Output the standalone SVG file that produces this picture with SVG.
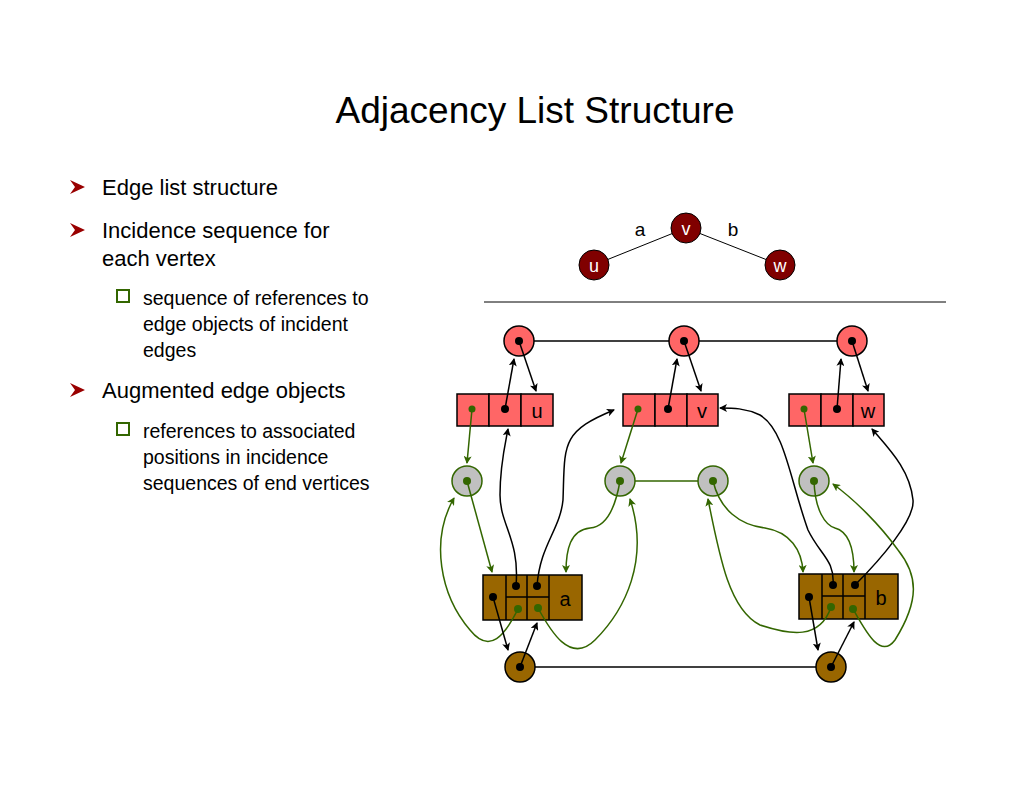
<svg xmlns="http://www.w3.org/2000/svg" width="1024" height="791" viewBox="0 0 1024 791">
<defs>
<marker id="ab" markerWidth="8" markerHeight="8" refX="7" refY="4" orient="auto" markerUnits="userSpaceOnUse"><path d="M0,0 L8,4 L0,8 L2,4z" fill="#000"/></marker>
<marker id="ag" markerWidth="8" markerHeight="8" refX="7" refY="4" orient="auto" markerUnits="userSpaceOnUse"><path d="M0,0 L8,4 L0,8 L2,4z" fill="#336600"/></marker>
</defs>
<style>
text{font-family:"Liberation Sans",Arial,sans-serif;fill:#000}
.b{font-size:22px}.s{font-size:19.5px}
.rc{fill:#ff6666;stroke:#000;stroke-width:1.5}
.gc{fill:#c0c0c0;stroke:#336600;stroke-width:1.5}
.bc{fill:#996600;stroke:#000;stroke-width:1.5}
.vc{fill:#800000;stroke:#000;stroke-width:1}
.bk{fill:none;stroke:#000;stroke-width:1.5;marker-end:url(#ab)}
.gr{fill:none;stroke:#336600;stroke-width:1.5;marker-end:url(#ag)}
.ln{fill:none;stroke:#000;stroke-width:1.5}
.dk{fill:#000}.dg{fill:#336600}
.lb{font-size:19px}
</style>
<rect width="1024" height="791" fill="#fff"/>
<text x="535" y="123" font-size="37" text-anchor="middle">Adjacency List Structure</text>
<g id="bullets">
<g fill="#990000"><polygon points="70,180 85,187 70,194 75,187"/><polygon points="70,223 85,230 70,237 75,230"/><polygon points="70,383 85,390 70,397 75,390"/></g>
<text class="b" x="102" y="195">Edge list structure</text>
<text class="b" x="102" y="238">Incidence sequence for</text>
<text class="b" x="102" y="266">each vertex</text>
<text class="b" x="102" y="398">Augmented edge objects</text>
<rect x="117" y="290" width="12" height="12" fill="#fff" stroke="#336600" stroke-width="2"/>
<rect x="117" y="423" width="12" height="12" fill="#fff" stroke="#336600" stroke-width="2"/>
<text class="s" x="143" y="305">sequence of references to</text>
<text class="s" x="143" y="331">edge objects of incident</text>
<text class="s" x="143" y="357">edges</text>
<text class="s" x="143" y="438">references to associated</text>
<text class="s" x="143" y="464">positions in incidence</text>
<text class="s" x="143" y="490">sequences of end vertices</text>
</g>
<g id="graph">
<line x1="686" y1="228" x2="594" y2="265" stroke="#000"/>
<line x1="686" y1="228" x2="780" y2="265" stroke="#000"/>
<text class="lb" x="640" y="236" text-anchor="middle">a</text>
<text class="lb" x="733" y="236" text-anchor="middle">b</text>
<g id="gv"><circle class="vc" cx="686" cy="228" r="15"/><text x="686" y="235" font-size="18" text-anchor="middle" style="fill:#fff">v</text></g>
<g id="gu"><circle class="vc" cx="594" cy="265" r="15"/><text x="594" y="272" font-size="18" text-anchor="middle" style="fill:#fff">u</text></g>
<g id="gw"><circle class="vc" cx="780" cy="265" r="15"/><text x="780" y="272" font-size="18" text-anchor="middle" style="fill:#fff">w</text></g>
</g>
<line x1="484" y1="302" x2="946" y2="302" stroke="#000"/>
<g id="lines">
<line class="ln" x1="534" y1="341" x2="669" y2="341"/>
<line class="ln" x1="699" y1="341" x2="837" y2="341"/>
<line x1="635" y1="481" x2="698" y2="481" stroke="#336600" stroke-width="1.5"/>
<line class="ln" x1="535" y1="667" x2="816" y2="667"/>
</g>
<g id="vu"><circle class="rc" cx="519" cy="341" r="15"/></g>
<g id="vv"><circle class="rc" cx="684" cy="341" r="15"/></g>
<g id="vw"><circle class="rc" cx="852" cy="341" r="15"/></g>
<g id="bu"><rect class="rc" x="457" y="394" width="32" height="32"/><rect class="rc" x="489" y="394" width="32" height="32"/><rect class="rc" x="521" y="394" width="32" height="32"/><text x="537" y="418" font-size="20" text-anchor="middle">u</text></g>
<g id="bv"><rect class="rc" x="623" y="394" width="32" height="32"/><rect class="rc" x="655" y="394" width="32" height="32"/><rect class="rc" x="687" y="394" width="31" height="32"/><text x="702" y="418" font-size="20" text-anchor="middle">v</text></g>
<g id="bw"><rect class="rc" x="789" y="394" width="32" height="32"/><rect class="rc" x="821" y="394" width="32" height="32"/><rect class="rc" x="853" y="394" width="31" height="32"/><text x="868" y="418" font-size="20" text-anchor="middle">w</text></g>
<g id="p1"><circle class="gc" cx="467" cy="481" r="15"/></g>
<g id="p2"><circle class="gc" cx="620" cy="481" r="15"/></g>
<g id="p3"><circle class="gc" cx="713" cy="481" r="15"/></g>
<g id="p4"><circle class="gc" cx="814" cy="481" r="15"/></g>
<g id="ea"><rect class="bc" x="483" y="575" width="99" height="45"/><line class="ln" x1="506" y1="575" x2="506" y2="620"/><line class="ln" x1="527" y1="575" x2="527" y2="620"/><line class="ln" x1="549" y1="575" x2="549" y2="620"/><line class="ln" x1="506" y1="597" x2="549" y2="597"/><text x="565" y="606" font-size="20" text-anchor="middle">a</text></g>
<g id="eb"><rect class="bc" x="799" y="574" width="99" height="45"/><line class="ln" x1="822" y1="574" x2="822" y2="619"/><line class="ln" x1="843" y1="574" x2="843" y2="619"/><line class="ln" x1="865" y1="574" x2="865" y2="619"/><line class="ln" x1="822" y1="596" x2="865" y2="596"/><text x="881" y="605" font-size="20" text-anchor="middle">b</text></g>
<g id="ca"><circle class="bc" cx="520" cy="667" r="15"/></g>
<g id="cb"><circle class="bc" cx="831" cy="667" r="15"/></g>
<g id="connectors">
<path class="bk" d="M519,341 L536,391"/>
<path class="bk" d="M505,409 L514,359"/>
<path class="gr" d="M472,409 L467,463"/>
<path class="bk" d="M684,341 L701,391"/>
<path class="bk" d="M668,409 L677,359"/>
<path class="gr" d="M638,409 L621,463"/>
<path class="bk" d="M852,341 L868,391"/>
<path class="bk" d="M837,409 L841,359"/>
<path class="gr" d="M804,409 L813,463"/>
<path class="gr" d="M467,481 L492,572"/>
<path class="gr" d="M518,609 C505,635 490,655 470,630 C440,595 430,540 454,498"/>
<path class="bk" d="M516,586 C520,540 500,525 500,495 C500,465 505,445 508,429"/>
<path class="bk" d="M537,586 C540,545 560,530 563,500 C565,445 560,432 614,410"/>
<path class="gr" d="M620,481 C615,510 605,527 590,528 C570,530 566,550 566,572"/>
<path class="gr" d="M538,608 C550,630 570,665 595,640 C625,610 650,560 630,499"/>
<path class="bk" d="M493,597 L508,650"/>
<path class="bk" d="M520,667 L537,623"/>
<path class="gr" d="M713,481 C720,510 740,525 765,528 C790,532 802,550 803,572"/>
<path class="bk" d="M833,585 C835,560 820,555 808,530 C790,480 785,430 760,415 C745,408 733,408 720,408"/>
<path class="gr" d="M814,481 C815,510 825,525 835,528 C850,532 854,550 854,572"/>
<path class="bk" d="M855,585 C880,560 915,520 913,500 C910,470 890,450 872,429"/>
<path class="gr" d="M853,609 C865,630 880,660 895,640 C920,600 918,575 898,550 C880,525 855,500 833,484"/>
<path class="gr" d="M831,607 C820,640 790,635 760,625 C730,610 720,560 708,499"/>
<path class="bk" d="M809,597 L818,650"/>
<path class="bk" d="M831,667 L854,622"/>
</g>
<g id="dots">
<circle class="dg" cx="472" cy="409" r="3.5"/><circle class="dk" cx="505" cy="409" r="4"/>
<circle class="dg" cx="638" cy="409" r="3.5"/><circle class="dk" cx="668" cy="409" r="4"/>
<circle class="dg" cx="804" cy="409" r="3.5"/><circle class="dk" cx="837" cy="409" r="4"/>
<circle class="dk" cx="519" cy="341" r="4"/><circle class="dk" cx="684" cy="341" r="4"/><circle class="dk" cx="852" cy="341" r="4"/>
<circle class="dg" cx="467" cy="481" r="4"/><circle class="dg" cx="620" cy="481" r="4"/><circle class="dg" cx="713" cy="481" r="4"/><circle class="dg" cx="814" cy="481" r="4"/>
<circle class="dk" cx="493" cy="597" r="4"/><circle class="dk" cx="516" cy="586" r="4"/><circle class="dk" cx="537" cy="586" r="4"/><circle class="dg" cx="518" cy="609" r="4"/><circle class="dg" cx="538" cy="608" r="4"/>
<circle class="dk" cx="809" cy="597" r="4"/><circle class="dk" cx="833" cy="585" r="4"/><circle class="dk" cx="855" cy="585" r="4"/><circle class="dg" cx="831" cy="607" r="4"/><circle class="dg" cx="853" cy="609" r="4"/>
<circle class="dk" cx="520" cy="667" r="4"/><circle class="dk" cx="831" cy="667" r="4"/>
</g>
</svg>
